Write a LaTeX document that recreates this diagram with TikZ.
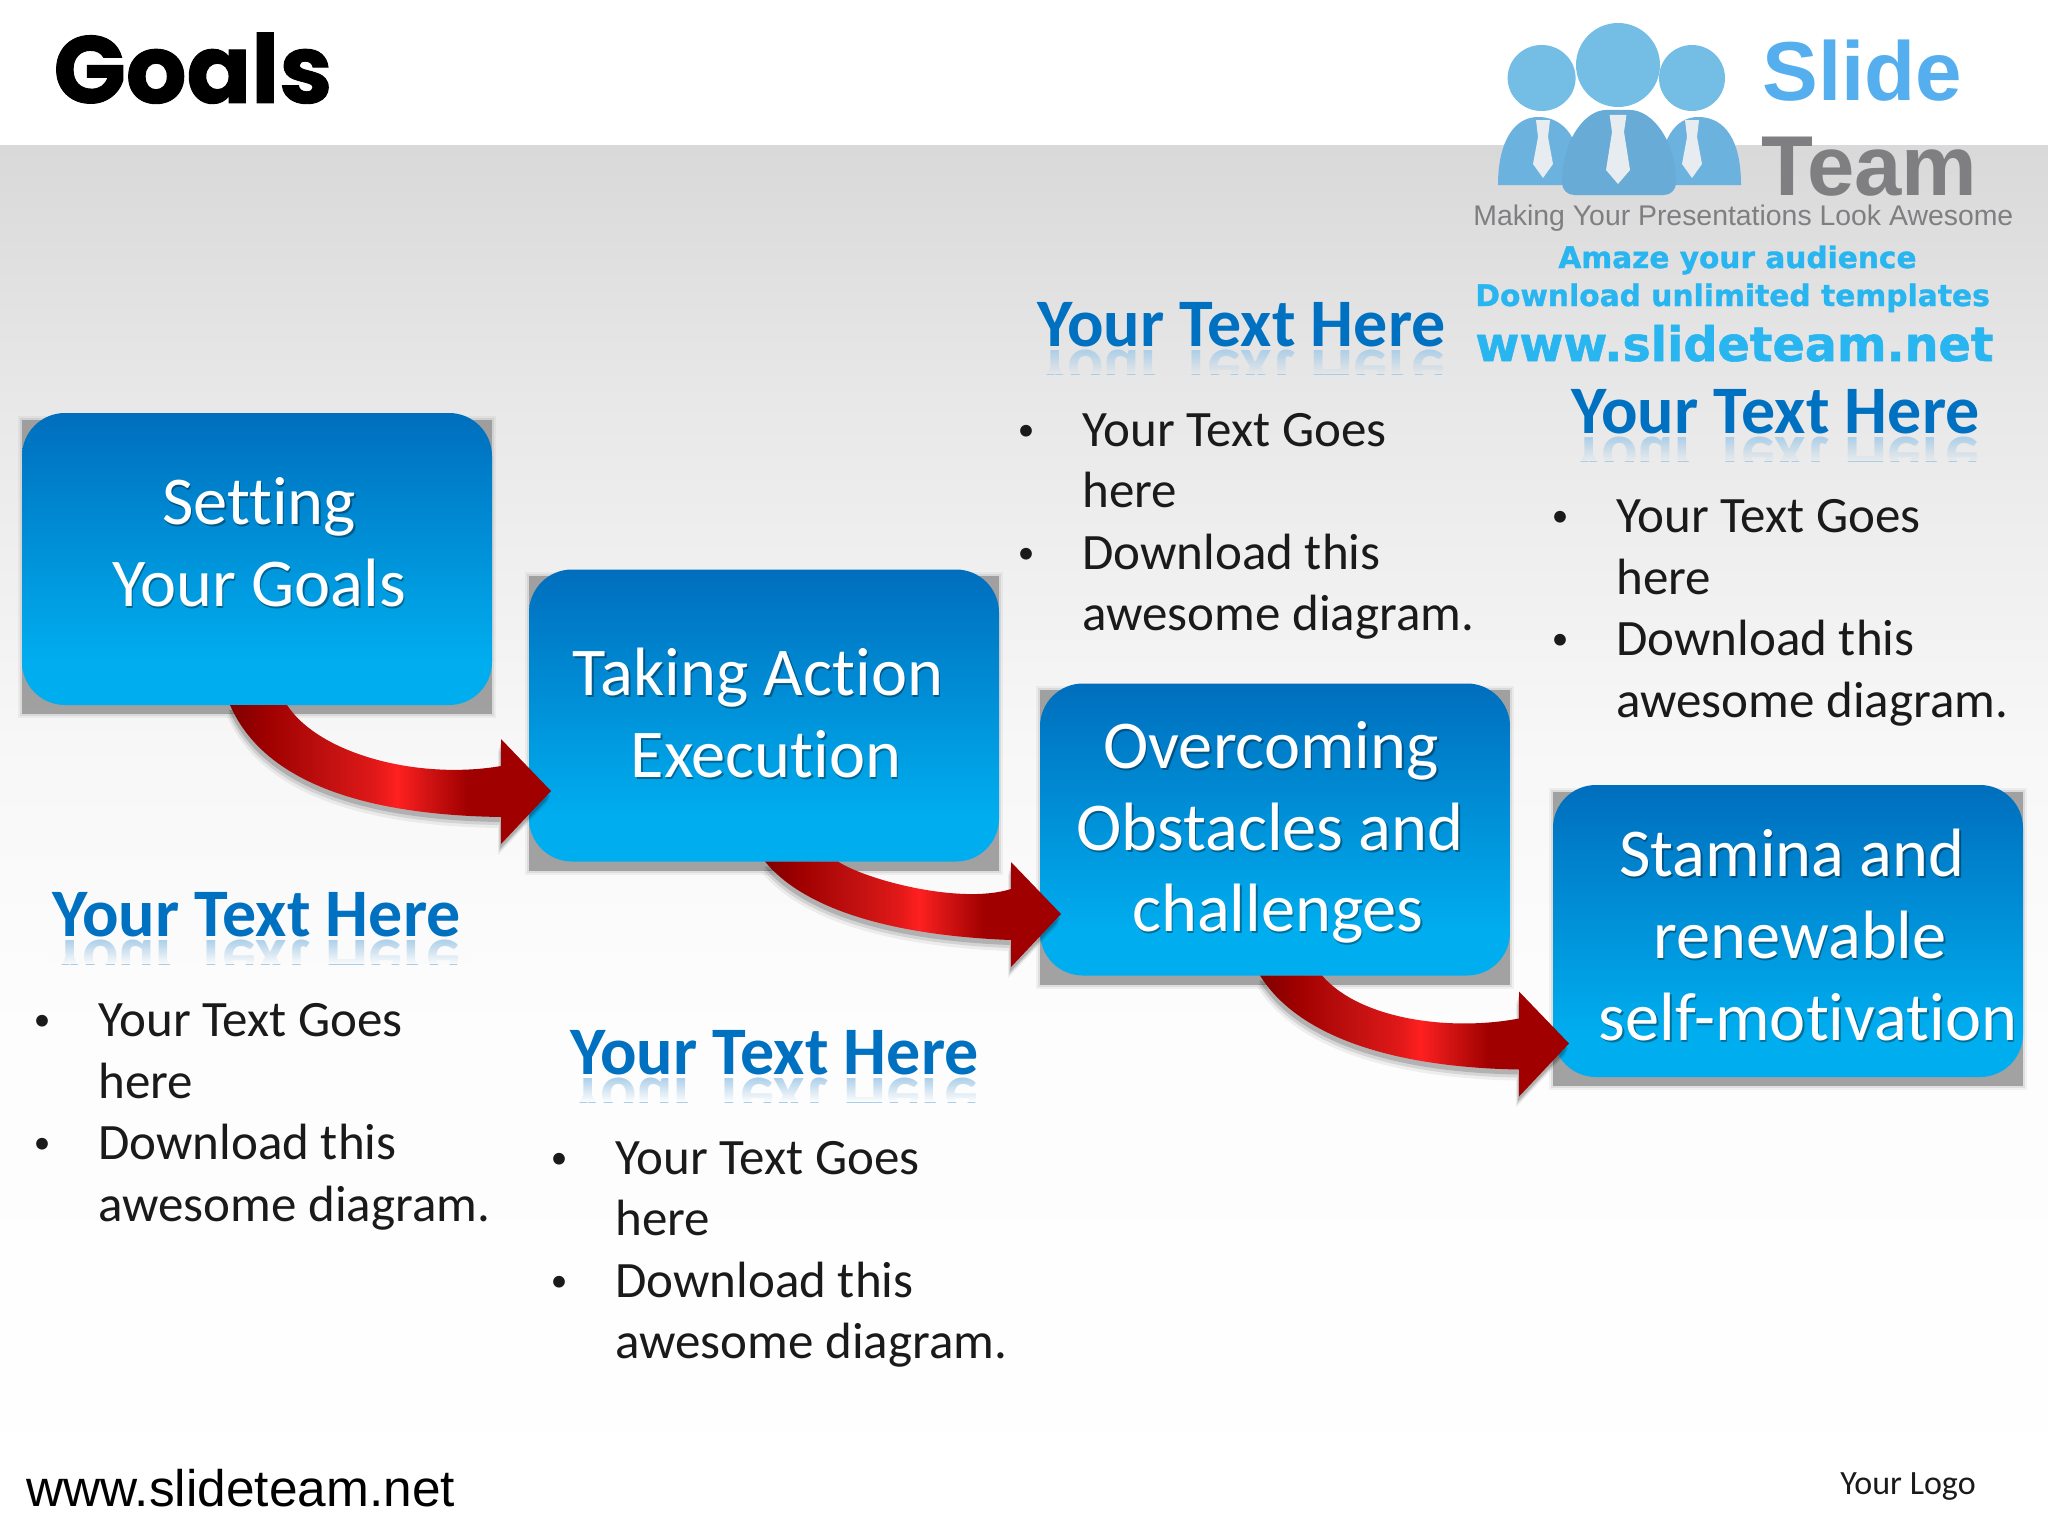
\documentclass[tikz,border=0pt]{standalone}
\usepackage{fontspec}
\setmainfont{Carlito}[Ligatures=NoCommon]
\newfontfamily\titlefont{Poppins}[UprightFont=* Bold,FakeBold=1]
\newfontfamily\lsans{Liberation Sans}
\newfontfamily\dvb{DejaVu Sans}[UprightFont=* Bold,FakeBold=1.2]
\usetikzlibrary{calc,fadings}
\definecolor{headblue}{HTML}{0070C0}
\definecolor{refblue}{HTML}{A8CDE8}
\definecolor{logoblue}{HTML}{6CB2DF}
\definecolor{logohead}{HTML}{74BEE6}
\definecolor{logotie}{HTML}{E6ECF0}
\definecolor{logoslide}{HTML}{55AEEE}
\definecolor{logogray}{HTML}{7F7F82}
\definecolor{logocyan}{HTML}{29B6F0}
\definecolor{shadowgray}{HTML}{8E8E8E}
\definecolor{bodyink}{HTML}{1A1A1A}
\pgfdeclareverticalshading{pagebg}{100bp}{
 color(0bp)=(white); color(25bp)=(white);
 color(44.3bp)=(white!99!black); color(53.3bp)=(white!97!black);
 color(65.8bp)=(white!91!black); color(75bp)=(white!85!black); color(100bp)=(white!85!black)}
\definecolor{bxa}{HTML}{00AEEF}
\definecolor{bxb}{HTML}{006EBD}
\pgfdeclareverticalshading{boxblue}{100bp}{
 color(0bp)=(bxa); color(32bp)=(bxa); color(75bp)=(bxb); color(100bp)=(bxb)}
\definecolor{ra}{HTML}{800000}
\definecolor{rb}{HTML}{A00000}
\definecolor{rc}{HTML}{C01010}
\definecolor{rd}{HTML}{E01818}
\definecolor{re}{HTML}{FF2020}
\definecolor{rf}{HTML}{D81515}
\pgfdeclarehorizontalshading{ribbonred}{100bp}{
 color(0bp)=(ra); color(25bp)=(ra); color(31bp)=(rb); color(40bp)=(rc);
 color(47.5bp)=(rd); color(51bp)=(re); color(55bp)=(rf); color(62bp)=(rb); color(100bp)=(rb)}
\tikzfading[name=fadedown, top color=transparent!100, bottom color=transparent!0]
\tikzset{
 px/.style={x=0.5pt,y=-0.5pt},
 stagebox/.style={shade,shading=boxblue,rounded corners=21.5pt,minimum width=235pt,minimum height=146pt,inner sep=0pt,outer sep=0pt},
 boxtext/.style={anchor=base,inner sep=0pt,text=white,font=\fontsize{34.2pt}{40pt}\selectfont},
 boxtextshadow/.style={anchor=base,inner sep=0pt,text=black,opacity=.35,font=\fontsize{34.2pt}{40pt}\selectfont},
 headingtext/.style={anchor=base west,inner sep=0pt,text=headblue,font=\fontsize{34pt}{40pt}\selectfont\bfseries},
 reflecttext/.style={anchor=base west,inner sep=0pt,text=refblue,font=\fontsize{34pt}{40pt}\selectfont\bfseries},
 bulletlist/.style={anchor=base west,inner sep=0pt,align=left,text=bodyink,font=\fontsize{25.5pt}{30.7pt}\selectfont},
 logotext/.style={anchor=base west,inner sep=0pt},
}
\newcommand\stage[5]{% name, x0, y0, x1, y1
 \foreach \g/\o in {4/.10,2/.18,0/.75}{
  \fill[shadowgray,opacity=\o] ({#2-\g},{#3+7-\g}) rectangle ({#4+\g},{#5+9+\g});}
 \node[stagebox] (#1) at ({(#2+#4)/2},{(#3+#5)/2}) {};}
\newcommand\boxline[4]{%
 \node[boxtextshadow] (#1s) at ({#2+3.5},{#3+2}) {#4};
 \node[boxtext] (#1) at ({#2+2},#3) {#4};}
\newcommand\headingblock[4]{% name, x, baseline, bg
 \begin{scope}
  \clip (#2-4,#3+2) rectangle (#2+420,#3+28);
  \node[reflecttext] (#1r) at (#2,#3+4) {\scalebox{1}[-1]{Your Text Here}};
  \fill[#4,path fading=fadedown] (#2-4,#3+2) rectangle (#2+420,#3+28);
 \end{scope}
 \node[headingtext] (#1) at (#2,#3) {Your Text Here};}
\newcommand\listbullet{\llap{\raisebox{3pt}{\scalebox{.65}{•}}\hspace{24pt}}}
\newcommand\listblock[3]{%
 \node[bulletlist] (#1) at (#2,#3) {\listbullet Your Text Goes\\here\\\listbullet Download this\\awesome diagram.};}
\newcommand\ribbon[9]{%
 \coordinate (tip) at ($(#2.west)+#5$);
 \coordinate (sl) at ($(#1.south west)+(#3,0)$);
 \coordinate (su) at ($(#1.south west)+(#4,0)$);
 \def\ribbonpath{(sl) .. controls ($(sl)+#6$) and ($(tip)+#7$) .. ($(tip)+(-50,26)$) -- ($(tip)+(-50,53)$) -- (tip) -- ($(tip)+(-50,-52)$) -- ($(tip)+(-50,-25)$) .. controls ($(tip)+#9$) and ($(su)+#8$) .. (su) -- cycle}
 \begin{scope}
  \clip ($(#1.south west)+(0,0)$) rectangle ($(tip)+(10,80)$);
  \fill[black,opacity=.06,transform canvas={shift={(-3,11)}}] \ribbonpath;
  \fill[black,opacity=.10,transform canvas={shift={(-2,8)}}] \ribbonpath;
  \fill[black,opacity=.16,transform canvas={shift={(-1,5)}}] \ribbonpath;
 \end{scope}
 \shade[shading=ribbonred] \ribbonpath;}
\begin{document}
\begin{tikzpicture}[px]
\useasboundingbox (0,0) rectangle (2048,1536);
\fill[white] (0,0) rectangle (2048,1536);
\shade[shading=pagebg] (0,145) rectangle (2048,1536);
% title
\node[anchor=base west,inner sep=0pt,text=black,font=\fontsize{47.6pt}{56pt}\titlefont] (title) at (53,103) {Goals};
% logo
\fill[logoblue] (1498,185) .. controls (1498,140) and (1515,117) .. (1538,117) .. controls (1565,117) and (1582,140) .. (1582,185) -- cycle;
\fill[logoblue] (1659,185) .. controls (1659,140) and (1675,117) .. (1698,117) .. controls (1725,117) and (1741,140) .. (1741,185) -- cycle;
\fill[logohead] (1541.6,78) ellipse [x radius=34,y radius=33];
\fill[logohead] (1692,78) ellipse [x radius=33,y radius=33];
\fill[logohead] (1618,65) ellipse [x radius=42,y radius=42];
\fill[logoblue!96!black,rounded corners=6pt] (1562,195) .. controls (1562,140) and (1585,110) .. (1618,110) .. controls (1652,110) and (1676,140) .. (1676,195) -- cycle;
\foreach \tx/\ty/\tb/\tw in {1543/120/178/10,1692/120/178/10,1618/115/184/12}{
 \fill[logotie] (\tx-\tw*.7,\ty) -- (\tx+\tw*.7,\ty) -- (\tx+\tw*.5,\ty+17) -- (\tx+\tw,\tb-14) -- (\tx,\tb) -- (\tx-\tw,\tb-14) -- (\tx-\tw*.5,\ty+17) -- cycle;}
\node[logotext,text=logoslide,font=\fontsize{41.8pt}{48pt}\lsans\bfseries] (lslide) at (1762,100) {Slide};
\node[logotext,text=logogray,font=\fontsize{42.5pt}{48pt}\lsans\bfseries] (lteam) at (1761,195) {Team};
\node[logotext,text=logogray,font=\fontsize{14.2pt}{18pt}\lsans] (lmaking) at (1473,225) {Making Your Presentations Look Awesome};
\node[logotext,text=logocyan,font=\fontsize{14.8pt}{16pt}\dvb] (lamaze) at (1558,268) {Amaze your audience};
\node[logotext,text=logocyan,font=\fontsize{14.85pt}{16pt}\dvb] (ldown) at (1475,306) {Download unlimited templates};
\node[logotext,text=logocyan,font=\fontsize{23.8pt}{26pt}\dvb] (lwww) at (1475,361) {www.slideteam.net};
% stages
\stage{b1}{22}{413}{492}{705}
\stage{b2}{529}{569}{999}{862}
\stage{b3}{1040}{683}{1510}{976}
\stage{b4}{1553}{785}{2023}{1077}
% ribbons
\ribbon{b1}{b2}{208}{265}{(22,75.5)}{(35,80)}{(-181,24)}{(33,50)}{(-131,-11)}
\ribbon{b2}{b3}{236}{309}{(21,84.5)}{(35,43)}{(-181,21)}{(27,18)}{(-101,-9)}
\ribbon{b3}{b4}{220}{282}{(16,112.5)}{(40,64)}{(-169,24)}{(38,44)}{(-119,-12)}
% box labels
\boxline{t1a}{257}{524}{Setting}
\boxline{t1b}{257}{606}{Your Goals}
\boxline{t2a}{756}{695}{Taking Action}
\boxline{t2b}{764}{777}{Execution}
\boxline{t3a}{1269}{768}{Overcoming}
\boxline{t3b}{1268}{850}{Obstacles and}
\boxline{t3c}{1276}{931}{challenges}
\boxline{t4a}{1790}{876}{Stamina and}
\boxline{t4b}{1798}{958}{renewable}
\boxline{t4c}{1806}{1040}{self-motivation}
% headings
\headingblock{h1}{52}{936}{white!98.5!black}
\headingblock{h2}{570}{1074}{white!99.5!black}
\headingblock{h3}{1037}{346}{white!90.5!black}
\headingblock{h4}{1571}{433}{white!92!black}
% lists (node base is the last line)
\listblock{l1}{98}{1221}
\listblock{l2}{615}{1358.5}
\listblock{l3}{1082}{630.5}
\listblock{l4}{1616}{717}
% footer
\node[anchor=base west,inner sep=0pt,text=black,font=\fontsize{25.7pt}{30pt}\lsans] (foot) at (26,1506) {www.slideteam.net};
\node[anchor=base west,inner sep=0pt,text=bodyink,font=\fontsize{17pt}{20pt}\selectfont] (logo) at (1840,1494) {Your Logo};
\end{tikzpicture}
\end{document}
